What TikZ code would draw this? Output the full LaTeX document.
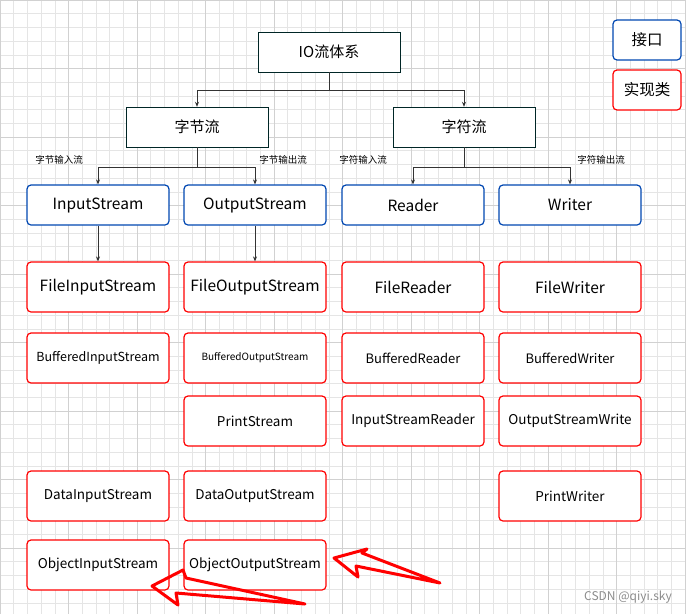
\documentclass[tikz,border=0pt]{standalone}
\usepackage{fontspec}
\setmainfont{Noto Sans CJK SC}
\usetikzlibrary{arrows.meta}
\tikzset{
  hdr/.style={draw=black!70!teal, fill=white, minimum width=142pt, minimum height=40pt, inner sep=0pt, font=\fontsize{15}{17}\selectfont},
  iface/.style={draw=blue!60!cyan!70!black, line width=1.2pt, rounded corners=4pt, fill=white, minimum width=142pt, minimum height=40pt, inner sep=0pt, font=\fontsize{15.5}{17}\selectfont},
  impl/.style={draw=red, line width=1.2pt, rounded corners=4pt, fill=white, minimum width=142pt, minimum height=50pt, inner sep=0pt, font=\fontsize{13}{15}\selectfont},
  conn/.style={draw=black!80, line width=0.7pt, -{Stealth[length=5pt,width=4pt]}},
  lbl/.style={font=\fontsize{9.5}{10}\selectfont},
  redarr/.style={draw=red, line width=3pt, line cap=round, line join=round},
}
\begin{document}
\begin{tikzpicture}[x=1pt,y=-1pt]
\useasboundingbox (0,0) rectangle (686,614);
\fill[white] (0,0) rectangle (686,614);
\foreach \i in {0,...,50} {
  \draw[black!10, line width=0.5pt] (\i*13.7,0) -- (\i*13.7,614);
  \draw[black!10, line width=0.5pt] (0,\i*13.7) -- (686,\i*13.7);
}
\foreach \i in {0,...,10} {
  \draw[black!18, line width=0.6pt] (\i*68.5,0) -- (\i*68.5,614);
  \draw[black!18, line width=0.6pt] (0,\i*68.5) -- (686,\i*68.5);
}
\node[hdr] (io) at (329,52) {IO流体系};
\node[hdr] (byte) at (197,127) {字节流};
\node[hdr] (char) at (464,127) {字符流};
\node[iface] (is) at (98,205) {InputStream};
\node[iface] (os) at (255,205) {OutputStream};
\node[iface] (rd) at (413,205) {Reader};
\node[iface] (wr) at (570,205) {Writer};
\node[iface, minimum width=68pt] (lg1) at (647,40) {接口};
\node[impl, minimum width=68pt, minimum height=40pt, font=\fontsize{15.5}{17}\selectfont] (lg2) at (647,90) {实现类};
\node[impl, font=\fontsize{15.5}{17}\selectfont] (fis) at (98,287) {FileInputStream};
\node[impl, font=\fontsize{15.5}{17}\selectfont] (fos) at (255,287) {FileOutputStream};
\node[impl, font=\fontsize{15.5}{17}\selectfont] (fr) at (413,287) {FileReader};
\node[impl, font=\fontsize{15.5}{17}\selectfont] (fw) at (570,287) {FileWriter};
\node[impl, font=\fontsize{12.5}{13}\selectfont] (bis) at (98,358) {BufferedInputStream};
\node[impl, font=\fontsize{10}{11}\selectfont] (bos) at (255,358) {BufferedOutputStream};
\node[impl, font=\fontsize{13}{13}\selectfont] (br) at (413,358) {BufferedReader};
\node[impl, font=\fontsize{13}{13}\selectfont] (bw) at (570,358) {BufferedWriter};
\node[impl, font=\fontsize{13.5}{14}\selectfont] (ps) at (255,421) {PrintStream};
\node[impl, font=\fontsize{13.5}{14}\selectfont] (isr) at (413,421) {InputStreamReader};
\node[impl, font=\fontsize{13.5}{14}\selectfont] (osw) at (570,421) {OutputStreamWrite};
\node[impl, font=\fontsize{13.5}{14}\selectfont] (dis) at (98,496) {DataInputStream};
\node[impl, font=\fontsize{13.5}{14}\selectfont] (dos) at (255,496) {DataOutputStream};
\node[impl, font=\fontsize{13.5}{14}\selectfont] (pw) at (570,496) {PrintWriter};
\node[impl, font=\fontsize{13.5}{14}\selectfont] (ois) at (98,565) {ObjectInputStream};
\node[impl, font=\fontsize{13.5}{14}\selectfont] (oos) at (255,565) {ObjectOutputStream};
\draw[conn] (io.south) -- ++(0,18) -| (byte.north);
\draw[conn] (io.south) -- ++(0,18) -| (char.north);
\draw[conn] (byte.south) -- ++(0,20) -| (is.north);
\draw[conn] (byte.south) -- ++(0,20) -| (os.north);
\draw[conn] (char.south) -- ++(0,20) -| (rd.north);
\draw[conn] (char.south) -- ++(0,20) -| (wr.north);
\draw[conn] (is.south) -- (fis.north);
\draw[conn] (os.south) -- (fos.north);
\node[lbl] (l1) at (59,160) {字节输入流};
\node[lbl] (l2) at (283,160) {字节输出流};
\node[lbl] (l3) at (363,160) {字符输入流};
\node[lbl] (l4) at (601,160) {字符输出流};
\coordinate (t1) at (334,558);
\coordinate (e1) at (440,583);
\draw[redarr] (e1) -- (362,553) -- (367,549) -- (t1) -- (358,577) -- (356,566) -- cycle;
\coordinate (t2) at (152,586);
\coordinate (e2) at (305,604);
\draw[redarr] (e2) -- (186,578) -- (183,570) -- (t2) -- (178,605) -- (176,593) -- cycle;
\node[text=black!45, font=\fontsize{12}{13}\selectfont] (wm) at (628,597) {CSDN @qiyi.sky};
\end{tikzpicture}
\end{document}
